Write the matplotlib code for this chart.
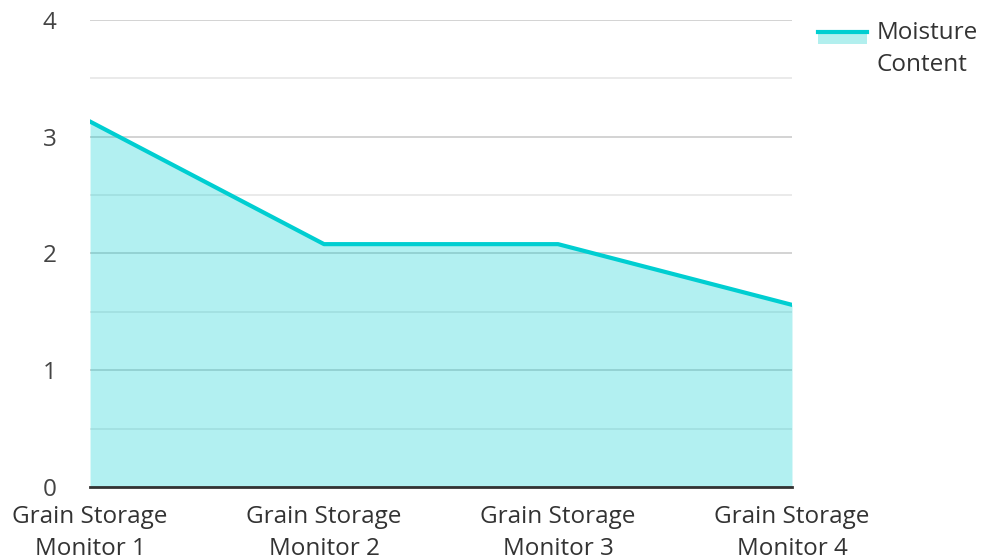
import matplotlib.pyplot as plt
from matplotlib.patches import Rectangle
from matplotlib.lines import Line2D

# data
monitors = ['Grain Storage\nMonitor 1', 'Grain Storage\nMonitor 2',
            'Grain Storage\nMonitor 3', 'Grain Storage\nMonitor 4']
moisture = [3.13, 2.08, 2.08, 1.56]
series_name = 'Moisture\nContent'

line_c = '#00CED1'
fill_c = '#B2EFEE'
plt.rcParams['font.family'] = ['Open Sans', 'DejaVu Sans']
fs = 17.5

fig = plt.figure(figsize=(9.82, 5.6), dpi=100)
ax = fig.add_axes([0.0917, 0.1304, 0.7148, 0.8339])

x = list(range(len(monitors)))
ax.fill_between(x, moisture, 0, color=line_c, alpha=0.3, linewidth=0, zorder=2)
ax.plot(x, moisture, color=line_c, linewidth=3, zorder=3)

ax.set_xlim(0, 3)
ax.set_ylim(0, 4)
ax.set_yticks([0, 1, 2, 3, 4])
ax.set_yticks([0.5, 1.5, 2.5, 3.5], minor=True)
ax.grid(axis='y', which='major', color='#cccccc', linewidth=1.2, zorder=1)
ax.grid(axis='y', which='minor', color='#e6e6e6', linewidth=1.2, zorder=1)
ax.set_axisbelow(True)

ax.set_xticks(x)
ax.set_xticklabels(monitors, fontsize=fs, color='#333333', linespacing=1.45)
ax.tick_params(axis='y', which='both', length=0, labelsize=fs, labelcolor='#444444', pad=24)
ax.tick_params(axis='x', length=0, pad=13)

for s in ['top', 'right', 'left']:
    ax.spines[s].set_visible(False)
ax.spines['bottom'].set_color('#333333')
ax.spines['bottom'].set_linewidth(2)
ax.spines['bottom'].set_zorder(4)

# legend drawn by hand: fill swatch with line on top
W, H = 982, 560
fig.add_artist(Rectangle((818 / W, 1 - 44 / H), 49 / W, 13 / H, transform=fig.transFigure,
                         facecolor=fill_c, edgecolor='none'))
fig.add_artist(Line2D([818 / W, 867 / W], [1 - 32 / H, 1 - 32 / H], transform=fig.transFigure,
                      color=line_c, linewidth=3))
fig.text(877 / W, 1 - 21 / H, series_name, fontsize=fs, color='#333333',
         va='top', ha='left', linespacing=1.45)

fig.savefig('out.png', dpi=100)
